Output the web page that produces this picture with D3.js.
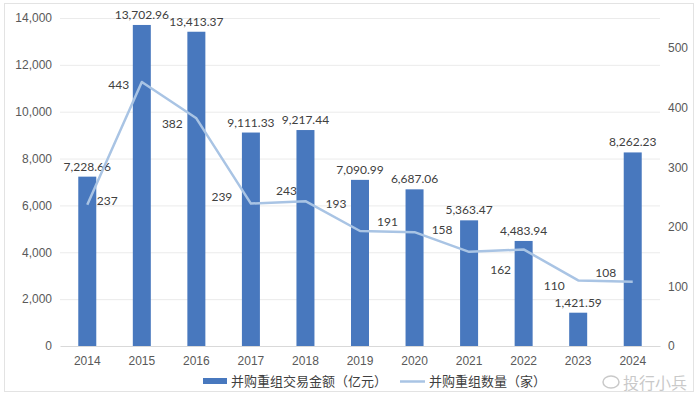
<!DOCTYPE html>
<html>
<head>
<meta charset="utf-8">
<script src="https://cdn.jsdelivr.net/npm/d3@7"></script>
<style>
  html, body { margin: 0; padding: 0; background: #fff; }
  svg { display: block; font-family: Lato, "Open Sans", "Noto Sans CJK SC", sans-serif; }
  .tick text { fill: #595959; font-size: 12px; }
  .lbl { fill: #404040; font-size: 12px; }
  .legend text { fill: #404040; font-size: 13px; font-family: "Noto Sans CJK SC", sans-serif; }
</style>
</head>
<body>
<svg id="chart" width="700" height="395"></svg>
<script>
  // data
  const years = ['2014', '2015', '2016', '2017', '2018', '2019', '2020', '2021', '2022', '2023', '2024'];
  const amounts = [7228.66, 13702.96, 13413.37, 9111.33, 9217.44, 7090.99, 6687.06, 5363.47, 4483.94, 1421.59, 8262.23];
  const counts = [237, 443, 382, 239, 243, 193, 191, 158, 162, 110, 108];
  const leftTicks = [0, 2000, 4000, 6000, 8000, 10000, 12000, 14000];
  const rightTicks = [0, 100, 200, 300, 400, 500];
  const seriesNames = ['并购重组交易金额（亿元）', '并购重组数量（家）'];

  // where each count label sits relative to its point (Excel-style manual placement)
  const countLabelOffset = [[20, 0], [-23, 7], [-24, 10], [-29, -3], [-19, -6], [-24, -23],
                            [-27, -6], [-27, -18], [-23, 25], [-24, 10], [-27, -5]];

  const BAR = '#4878be', LINE = '#a9c4e4', GRID = '#ebebeb';
  const svg = d3.select('#chart');
  const W = 700, H = 395;
  const m = { left: 60, right: 40, top: 18, bottom: 49 };

  // faint outer frame
  svg.append('rect').attr('x', 4.5).attr('y', 3.5).attr('width', 689).attr('height', 388)
    .attr('fill', 'none').attr('stroke', '#e3e3e3');

  const x = d3.scaleBand().domain(years).range([m.left, W - m.right]).paddingInner(0.67).paddingOuter(0.335);
  const yL = d3.scaleLinear().domain([0, 14000]).range([H - m.bottom, m.top]);
  const yR = d3.scaleLinear().domain([0, 500]).range([H - m.bottom, H - m.bottom - 298]);

  // gridlines
  svg.append('g').selectAll('line').data(leftTicks.slice(1)).join('line')
    .attr('x1', m.left).attr('x2', W - m.right)
    .attr('y1', d => yL(d) + 0.5).attr('y2', d => yL(d) + 0.5)
    .attr('stroke', GRID);

  // axes
  const axL = svg.append('g').attr('transform', `translate(${m.left - 4},0)`)
    .call(d3.axisLeft(yL).tickValues(leftTicks).tickFormat(d3.format(',')).tickSize(0).tickPadding(4));
  axL.select('.domain').remove();

  const axR = svg.append('g').attr('transform', `translate(${W - m.right + 5},0)`)
    .call(d3.axisRight(yR).tickValues(rightTicks).tickSize(0).tickPadding(3));
  axR.select('.domain').remove();

  const axX = svg.append('g').attr('transform', `translate(0,${H - m.bottom})`)
    .call(d3.axisBottom(x).tickSize(0).tickPadding(10));
  axX.select('.domain').attr('stroke', '#d9d9d9');

  // bars
  svg.append('g').selectAll('rect').data(amounts).join('rect')
    .attr('x', (d, i) => x(years[i]))
    .attr('y', d => yL(d))
    .attr('width', x.bandwidth())
    .attr('height', d => yL(0) - yL(d))
    .attr('fill', BAR);

  svg.append('g').selectAll('text').data(amounts).join('text')
    .attr('class', 'lbl')
    .attr('x', (d, i) => x(years[i]) + x.bandwidth() / 2)
    .attr('y', d => yL(d) - 6)
    .attr('text-anchor', 'middle')
    .text(d => d3.format(',.2f')(d));

  // line
  const cx = (d, i) => x(years[i]) + x.bandwidth() / 2;
  svg.append('path').datum(counts)
    .attr('fill', 'none').attr('stroke', LINE).attr('stroke-width', 2.5).attr('stroke-linejoin', 'round')
    .attr('d', d3.line().x(cx).y(d => yR(d)));

  svg.append('g').selectAll('text').data(counts).join('text')
    .attr('class', 'lbl')
    .attr('x', (d, i) => cx(d, i) + countLabelOffset[i][0])
    .attr('y', (d, i) => yR(d) + countLabelOffset[i][1])
    .attr('text-anchor', 'middle')
    .text(d => d);

  // legend
  const lg = svg.append('g').attr('class', 'legend');
  lg.append('rect').attr('x', 203).attr('y', 378).attr('width', 24).attr('height', 6).attr('fill', BAR);
  lg.append('text').attr('x', 231).attr('y', 386).text(seriesNames[0]);
  lg.append('line').attr('x1', 400).attr('x2', 425).attr('y1', 381.5).attr('y2', 381.5)
    .attr('stroke', LINE).attr('stroke-width', 2.5);
  lg.append('text').attr('x', 429).attr('y', 386).text(seriesNames[1]);

  // watermark
  const wm = svg.append('g').attr('opacity', 0.45);
  wm.append('ellipse').attr('cx', 611).attr('cy', 382).attr('rx', 8).attr('ry', 6)
    .attr('fill', 'none').attr('stroke', '#888').attr('stroke-width', 1.5);
  wm.append('text').attr('x', 623).attr('y', 389).attr('fill', '#888')
    .style('font-family', '"Noto Sans CJK SC", sans-serif').style('font-size', '16px').text('投行小兵');
</script>
</body>
</html>
